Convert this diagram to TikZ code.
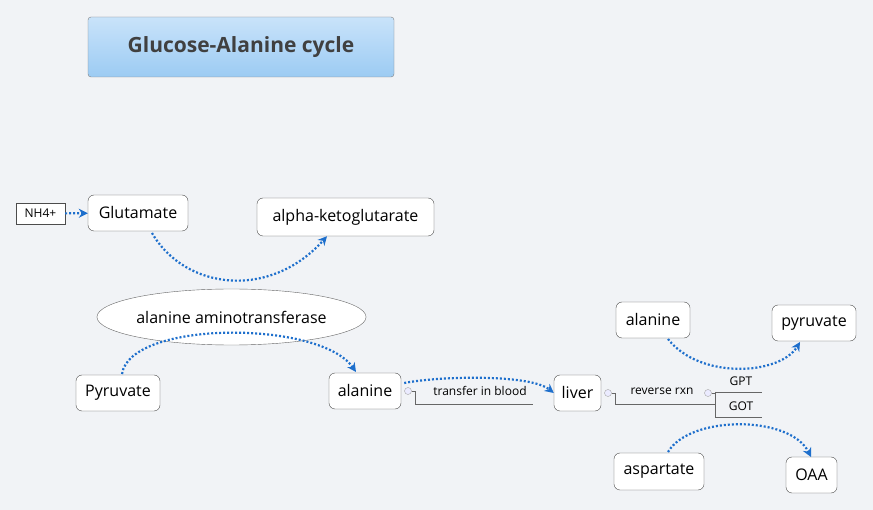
\documentclass[tikz,border=0pt]{standalone}
\usepackage{fontspec}
\setmainfont{Open Sans}
\usetikzlibrary{shapes.geometric,arrows.meta}
\definecolor{bg}{HTML}{F1F3F6}
\definecolor{arr}{HTML}{1E6FCC}
\definecolor{tl}{HTML}{C9E3FA}
\definecolor{tb}{HTML}{9CCBF3}
\begin{document}
\begin{tikzpicture}[x=1pt,y=-1pt,
  topic/.style={draw=black!70,fill=white,rounded corners=6pt,inner sep=0pt,minimum height=36pt,font=\fontsize{16}{18}\selectfont},
  lab/.style={inner sep=0pt,font=\fontsize{12}{14}\selectfont},
  darr/.style={arr,line width=2.2pt,dash pattern=on 2pt off 2pt,-{Stealth[length=9pt,width=9pt]}},
  thin/.style={black!60,line width=0.6pt},
  knob/.style={circle,draw=black!35,fill=blue!8,inner sep=0pt,minimum size=7pt}]
\fill[bg] (0,0) rectangle (873,510);
\node[draw=black!50,rounded corners=3pt,top color=tl,bottom color=tb,minimum width=306pt,minimum height=60pt,font=\fontsize{21}{24}\selectfont\bfseries,text=black!75] (title) at (241,47) {Glucose-Alanine cycle};
\node[draw=black!70,fill=white,minimum width=49pt,minimum height=21pt,inner sep=0pt,font=\fontsize{12}{14}\selectfont] (nh4) at (40.5,213.5) {NH4+};
\node[topic,minimum width=100pt] (glu) at (138,213) {Glutamate};
\node[topic,minimum width=177pt,minimum height=38pt] (akg) at (345.5,217) {alpha-ketoglutarate};
\node[ellipse,draw=black!60,fill=white,minimum width=231pt,minimum height=56pt,inner sep=0pt,font=\fontsize{16}{18}\selectfont] (aat) at (231.5,317) {alanine aminotransferase};
\node[topic,minimum width=84pt] (pyr) at (118,393) {Pyruvate};
\node[topic,minimum width=72pt] (ala) at (365,391) {alanine};
\node[topic,minimum width=47pt] (liver) at (577.5,393) {liver};
\node[topic,minimum width=74pt] (ala2) at (653,320) {alanine};
\node[topic,minimum width=84pt] (pyr2) at (814,323) {pyruvate};
\node[topic,minimum width=90pt,minimum height=37pt] (asp) at (659,471.5) {aspartate};
\node[topic,minimum width=51pt] (oaa) at (811.5,475) {OAA};
% subtopic lines
\node[knob] (k1) at (408,391) {};
\node[knob] (k2) at (608,393) {};
\node[knob] (k3) at (708,393) {};
\coordinate (e1) at (533,404);
\coordinate (e2) at (715,404);
\draw[thin] (k1.east) -| (415,404) -- (e1);
\draw[thin] (k2.east) -| (615,404) -- (e2);
\coordinate (g1) at (762,392);
\coordinate (g2) at (762,417);
\draw[thin] (k3.east) -- (715,393);
\draw[thin] (715,392) -- (g1);
\draw[thin] (715,392) -- (715,417) -- (g2);
\node[lab] (tib) at (480,391) {transfer in blood};
\node[lab] (rr) at (662,391) {reverse rxn};
\node[lab] (gpt) at (741,381) {GPT};
\node[lab] (got) at (741,406) {GOT};
% arrows
\draw[darr] (nh4) -- (glu);
\draw[darr] (152,233) .. controls (185,290) and (270,300) .. (akg.south west -| 327,238);
\draw[darr] (122,374) .. controls (130,320) and (320,320) .. (356,372);
\draw[darr] (ala.east) ++(3,-8) .. controls (440,376) and (530,374) .. (liver.west);
\draw[darr] (668,339) .. controls (700,380) and (780,375) .. (800,342);
\draw[darr] (668,452) .. controls (690,415) and (790,415) .. (811,457);
\end{tikzpicture}
\end{document}
